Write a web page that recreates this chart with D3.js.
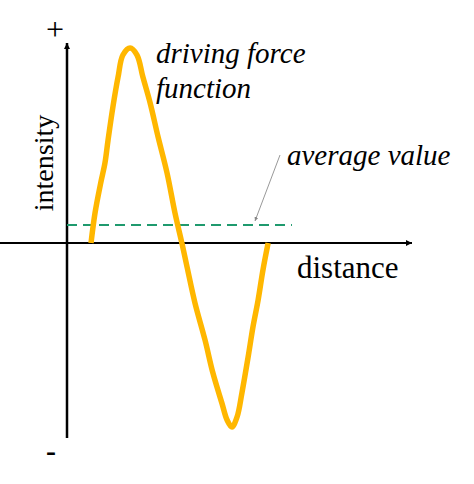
<!DOCTYPE html>
<html>
<head>
<meta charset="utf-8">
<script src="https://cdn.jsdelivr.net/npm/d3@7"></script>
<style>
  html, body { margin: 0; padding: 0; background: #fff; }
  svg { display: block; }
</style>
</head>
<body>
<svg id="chart" width="474" height="484"></svg>
<script>
// ---- data ----
const distance  = [6.96, 8.12, 9.77, 11.0, 11.9, 13.3, 14.8, 16.2, 18.3, 20.3, 22.0, 24.1, 26.4, 29.0, 31.3, 33.3, 34.8, 37.1, 40.0, 42.3, 44.9, 46.4, 47.8, 49.3, 50.7, 52.5, 53.9, 55.4, 56.8, 58.3];
const intensity = [0, 0.154, 0.308, 0.41, 0.528, 0.697, 0.851, 0.964, 1.0, 0.964, 0.851, 0.718, 0.544, 0.359, 0.154, 0, -0.123, -0.308, -0.497, -0.667, -0.821, -0.908, -0.944, -0.892, -0.769, -0.585, -0.431, -0.292, -0.138, 0];
const averageValue = 0.092;
const averageExtent = [0, 65.2];
const axisLabels = { x: "distance", y: "intensity", plus: "+", minus: "-" };
const annotations = ["driving force", "function", "average value"];

// ---- scales ----
const svg = d3.select("#chart");
const x = d3.scaleLinear().domain([0, 100]).range([67, 412]);
const y = d3.scaleLinear().domain([-1, 1]).range([438, 48]);
const SERIF = '"Liberation Serif"';

// arrow markers
const defs = svg.append("defs");
defs.append("marker").attr("id", "arrow").attr("viewBox", "0 0 10 10")
  .attr("refX", 10).attr("refY", 5).attr("markerWidth", 6).attr("markerHeight", 6)
  .attr("markerUnits", "userSpaceOnUse").attr("orient", "auto")
  .append("path").attr("d", "M0,0 L10,5 L0,10 z").attr("fill", "#000");
defs.append("marker").attr("id", "garrow").attr("viewBox", "0 0 10 10")
  .attr("refX", 10).attr("refY", 5).attr("markerWidth", 4).attr("markerHeight", 4)
  .attr("markerUnits", "userSpaceOnUse").attr("orient", "auto")
  .append("path").attr("d", "M0,0 L10,5 L0,10 z").attr("fill", "#888");

// axes
svg.append("line")
  .attr("x1", 0).attr("x2", x(100)).attr("y1", y(0)).attr("y2", y(0))
  .attr("stroke", "#000").attr("stroke-width", 2).attr("marker-end", "url(#arrow)");
svg.append("line")
  .attr("x1", x(0)).attr("x2", x(0)).attr("y1", y(-1)).attr("y2", y(1.026))
  .attr("stroke", "#000").attr("stroke-width", 2.5).attr("marker-end", "url(#arrow)");

// average dashed line
svg.append("line")
  .attr("x1", x(averageExtent[0])).attr("x2", x(averageExtent[1]))
  .attr("y1", y(averageValue)).attr("y2", y(averageValue))
  .attr("stroke", "#1f9a6e").attr("stroke-width", 2)
  .attr("stroke-dasharray", "10,6");

// driving force curve
const pts = distance.map((d, i) => [d, intensity[i]]);
const line = d3.line().x(d => x(d[0])).y(d => y(d[1])).curve(d3.curveCatmullRom.alpha(0.5));
svg.append("path").datum(pts)
  .attr("d", line)
  .attr("fill", "none")
  .attr("stroke", "#FFB700")
  .attr("stroke-width", 5.5)
  .attr("stroke-linecap", "butt")
  .attr("stroke-linejoin", "round");

// leader line for average value
svg.append("line")
  .attr("x1", 280).attr("y1", 155).attr("x2", 255).attr("y2", 221)
  .attr("stroke", "#999").attr("stroke-width", 1).attr("marker-end", "url(#garrow)");

// texts
function label(px, py, str, size, opts = {}) {
  const t = svg.append("text")
    .attr("x", px).attr("y", py)
    .style("font-family", SERIF)
    .style("font-size", size + "px")
    .style("font-style", opts.italic ? "italic" : "normal")
    .style("font-weight", opts.bold ? "bold" : "normal")
    .attr("text-anchor", opts.anchor || "start")
    .attr("fill", "#000")
    .text(str);
  if (opts.transform) t.attr("transform", opts.transform);
  return t;
}
label(55, 40, axisLabels.plus, 32, { anchor: "middle" });
label(51, 461, axisLabels.minus, 30, { anchor: "middle", bold: true });
label(0, 0, axisLabels.y, 28, { anchor: "middle", transform: "translate(53,163) rotate(-90)" });
label(297, 278, axisLabels.x, 31);
label(156, 63, annotations[0], 29, { italic: true });
label(156, 98, annotations[1], 29, { italic: true });
label(287, 165, annotations[2], 29, { italic: true });
</script>
</body>
</html>
